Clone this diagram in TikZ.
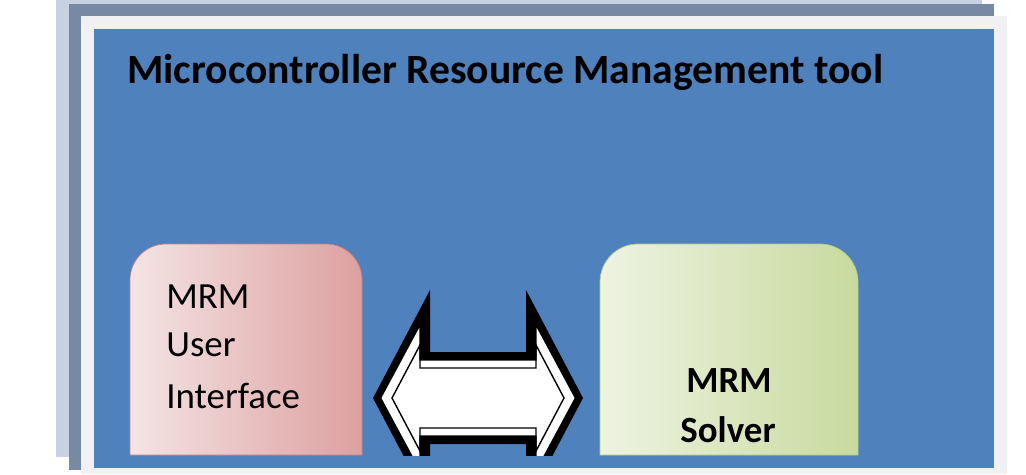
\documentclass[tikz,border=0pt]{standalone}
\usepackage{fontspec}
\setmainfont{Carlito}
\begin{document}
\begin{tikzpicture}[x=0.02cm,y=-0.02cm,
  lbl/.style={anchor=base west,inner sep=0,font=\fontsize{21}{21}\selectfont},
  blbl/.style={anchor=base,inner sep=0,font=\bfseries\fontsize{21}{21}\selectfont}]
\definecolor{fA}{HTML}{C6D1E1}
\definecolor{fB}{HTML}{7889A3}
\definecolor{fC}{HTML}{F1F1F4}
\definecolor{bl}{HTML}{4F81BD}
\definecolor{pkL}{HTML}{F4E4E4}
\definecolor{pkR}{HTML}{DDA0A0}
\definecolor{pkD}{HTML}{C9807E}
\definecolor{grL}{HTML}{EEF3E2}
\definecolor{grR}{HTML}{C8DA9E}
\definecolor{grD}{HTML}{B3C98A}
\useasboundingbox (0,0) rectangle (1026,474);
\fill[fA] (56,0) rectangle (982,457);
\fill[fB] (69,4) rectangle (994,470);
\fill[fC] (81,16) rectangle (1007,474);
\fill[bl] (94,29) rectangle (994,468);
\node[anchor=base west,inner sep=0,font=\bfseries\fontsize{23.7}{24}\selectfont] (title) at (127,83) {Microcontroller Resource Management tool};
\shade[left color=pkL,right color=pkR, draw=pkD] (130,455) -- (130,280) arc[start angle=180,end angle=270,radius=36] -- (326,244) arc[start angle=270,end angle=360,radius=36] -- (362,455) -- cycle;
\shade[left color=grL,right color=grR,draw=grD] (600,455) -- (600,282) arc[start angle=180,end angle=270,radius=38] -- (820,244) arc[start angle=270,end angle=360,radius=38] -- (858,455) -- cycle;
\node[lbl] (ui1) at (166,308) {MRM};
\node[lbl] (ui2) at (166,356) {User};
\node[lbl] (ui3) at (166,408) {Interface};
\node[blbl] (s1) at (729,392) {MRM};
\node[blbl] (s2) at (728,442) {Solver};
\begin{scope}
\clip (94,29) rectangle (994,455);
\fill[black] (373,398) -- (430,290) -- (430,352) -- (526,352) -- (526,290) -- (583,398) -- (526,506) -- (526,444) -- (430,444) -- (430,506) -- cycle;
\draw[white,fill=white,line width=1.5pt] (383,398) -- (418,333) -- (418,362) -- (538,362) -- (538,333) -- (573,398) -- (538,463) -- (538,434) -- (418,434) -- (418,463) -- cycle;
\draw[black,line width=0.8pt] (392,398) -- (420,345) -- (420,368) -- (536,368) -- (536,345) -- (564,398) -- (536,451) -- (536,428) -- (420,428) -- (420,451) -- cycle;
\end{scope}
\end{tikzpicture}
\end{document}
